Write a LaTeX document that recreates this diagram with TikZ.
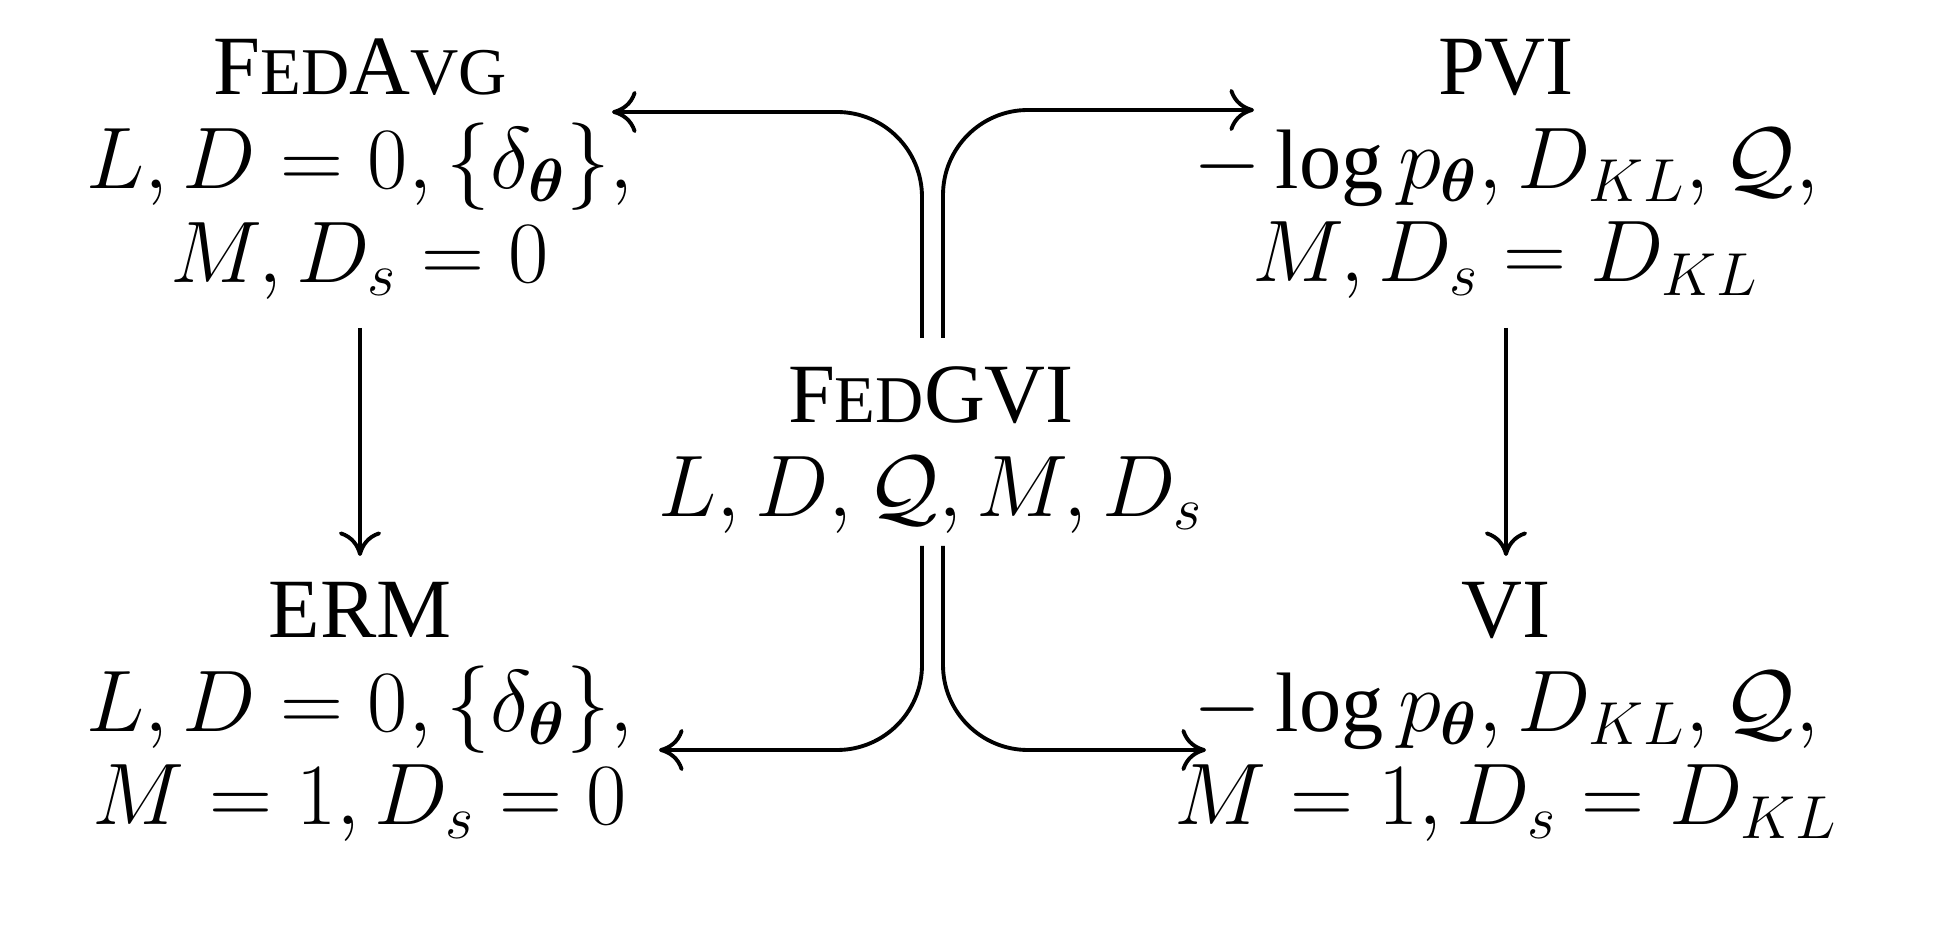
\documentclass[tikz,border=0pt]{standalone}
\usepackage{amsmath,amssymb,bm}
\usepackage{fontspec}
\setmainfont{Liberation Serif}
\usetikzlibrary{arrows.meta}
\newcommand{\sct}[2]{#1{\fontsize{19}{20}\selectfont #2}}
\begin{document}
\begin{tikzpicture}[x=1cm,y=1cm,
  lbl/.style={align=center,font=\fontsize{24}{26.7}\selectfont,inner sep=0},
  arr/.style={line width=1.1pt,-{To[length=7pt,width=12pt]}},
  crv/.style={arr,rounded corners=0.85cm}]
\useasboundingbox (0,0) rectangle (19.40,-9.36);
\node[lbl] (avg) at (3.60,-1.69) {\sct{F}{ED}\sct{A}{VG}\\$L, D=0, \{\delta_{\bm\theta}\},$\\$M, D_s=0$};
\node[lbl] (pvi) at (15.06,-1.69) {PVI\\$-\log p_{\bm\theta}, D_{KL}, \mathcal{Q},$\\$M, D_s=D_{KL}$};
\node[lbl] (erm) at (3.60,-7.12) {ERM\\$L, D=0, \{\delta_{\bm\theta}\},$\\$M=1, D_s=0$};
\node[lbl] (vi) at (15.06,-7.12) {VI\\$-\log p_{\bm\theta}, D_{KL}, \mathcal{Q},$\\$M=1, D_s=D_{KL}$};
\node[lbl] (gvi) at (9.31,-4.50) {\sct{F}{ED}GVI\\$L, D, \mathcal{Q}, M, D_s$};
\draw[arr] (3.60,-3.28) coordinate (a1) -- (3.60,-5.56) coordinate (a2);
\draw[arr] (15.06,-3.28) coordinate (b1) -- (15.06,-5.56) coordinate (b2);
\coordinate (t1) at (9.22,-3.38); \coordinate (t1e) at (6.12,-1.12);
\coordinate (t2) at (9.43,-3.38); \coordinate (t2e) at (12.54,-1.10);
\coordinate (d1) at (9.22,-5.46); \coordinate (d1e) at (6.59,-7.50);
\coordinate (d2) at (9.43,-5.46); \coordinate (d2e) at (12.06,-7.50);
\draw[crv] (t1) |- (t1e);
\draw[crv] (t2) |- (t2e);
\draw[crv] (d1) |- (d1e);
\draw[crv] (d2) |- (d2e);
\end{tikzpicture}
\end{document}
